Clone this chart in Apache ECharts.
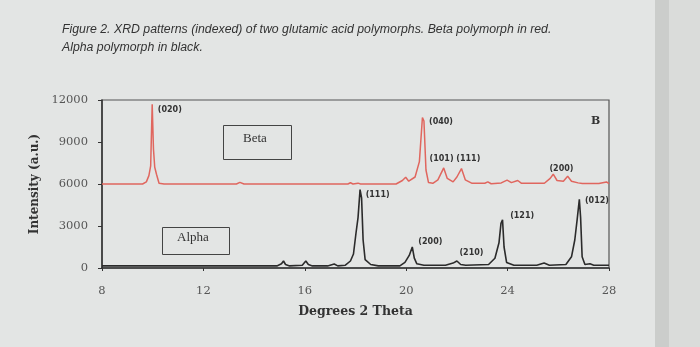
<!DOCTYPE html>
<html><head><meta charset="utf-8">
<script src="https://cdn.jsdelivr.net/npm/echarts@6/dist/echarts.min.js"></script>
<style>html,body{margin:0;padding:0;background:#e3e5e4}#c{width:700px;height:347px}</style>
</head><body><div id="c"></div>
<script>
const titleLines = ["Figure 2. XRD patterns (indexed) of two glutamic acid polymorphs. Beta polymorph in red.", "Alpha polymorph in black."];
const xTicks = [8, 12, 16, 20, 24, 28];
const yTicks = [0, 3000, 6000, 9000, 12000];
// Beta polymorph (red): [2theta, intensity]
const betaPattern = [[8.0,6000],[9.6,6000],[9.75,6150],[9.85,6600],[9.92,7300],[9.98,11700],[10.03,8500],[10.08,7200],[10.15,6700],[10.25,6050],[10.45,6000],[13.3,6000],[13.44,6120],[13.6,6000],[17.7,6000],[17.8,6090],[17.9,6000],[18.1,6060],[18.2,6000],[19.6,6000],[19.85,6250],[19.98,6480],[20.1,6200],[20.35,6500],[20.52,7600],[20.64,10750],[20.7,10500],[20.78,7000],[20.88,6100],[21.05,6050],[21.25,6300],[21.48,7150],[21.62,6400],[21.85,6150],[22.0,6500],[22.18,7100],[22.33,6300],[22.6,6050],[23.1,6050],[23.22,6150],[23.35,6020],[23.75,6080],[23.98,6280],[24.15,6100],[24.4,6250],[24.55,6050],[25.45,6050],[25.68,6400],[25.8,6700],[25.95,6250],[26.2,6200],[26.37,6550],[26.52,6200],[26.78,6080],[26.95,6030],[27.6,6030],[27.9,6150],[28.0,6030]];
// Alpha polymorph (black)
const alphaPattern = [[8.0,150],[14.9,150],[15.08,300],[15.16,500],[15.24,250],[15.4,150],[15.9,200],[16.04,500],[16.14,250],[16.3,150],[16.9,150],[17.16,280],[17.3,150],[17.6,200],[17.8,500],[17.92,1000],[18.02,2500],[18.1,3600],[18.18,5600],[18.24,5000],[18.3,2000],[18.38,600],[18.6,250],[18.9,150],[19.75,150],[19.95,400],[20.12,900],[20.24,1500],[20.32,700],[20.42,300],[20.7,200],[21.55,200],[21.85,350],[22.0,500],[22.15,250],[22.35,200],[23.25,250],[23.5,700],[23.66,1800],[23.74,3200],[23.8,3450],[23.86,1500],[23.96,400],[24.25,200],[25.15,200],[25.44,350],[25.65,200],[26.3,250],[26.52,800],[26.65,2000],[26.74,3400],[26.83,4900],[26.88,3600],[26.94,800],[27.05,250],[27.25,300],[27.4,200],[28,200]];
// Peak index labels: [text, 2theta, intensity]
const betaLabels = [["(020)",10.2,11300],["(040)",20.9,10450],["(101) (111)",20.92,7800],["(200)",25.65,7100]];
const alphaLabels = [["(111)",18.4,5250],["(200)",20.48,1850],["(210)",22.1,1050],["(121)",24.1,3700],["(012)",27.05,4800]];

const tickFont = {fontFamily:'DejaVu Serif', fontSize:11.5, color:'#555'};
function labelPoints(list){
  return list.map(l => ({coord:[l[1],l[2]], value:l[0]}));
}
const chart = echarts.init(document.getElementById('c'));
chart.setOption({
  backgroundColor:'#e3e5e4',
  animation:false,
  grid:{left:102, right:91, top:100, bottom:79, show:true, borderColor:'#555', borderWidth:1.2, backgroundColor:'transparent'},
  xAxis:{type:'value', min:8, max:28, interval:4,
    axisLine:{lineStyle:{color:'#333', width:1.5}},
    axisTick:{show:true, length:3, inside:false, lineStyle:{color:'#333'}},
    splitLine:{show:false},
    axisLabel:Object.assign({margin:17, formatter:v=>String(v)}, tickFont),
    name:'Degrees 2 Theta', nameLocation:'middle', nameGap:37,
    nameTextStyle:{fontFamily:'DejaVu Serif', fontWeight:'bold', fontSize:12.5, color:'#333'}
  },
  yAxis:{type:'value', min:0, max:12000, interval:3000,
    axisLine:{show:true, lineStyle:{color:'#333', width:1.5}},
    axisTick:{show:true, length:4, lineStyle:{color:'#333'}},
    splitLine:{show:false},
    axisLabel:Object.assign({margin:14, formatter:v=>String(v)}, tickFont),
    name:'Intensity (a.u.)', nameLocation:'middle', nameGap:60,
    nameTextStyle:{fontFamily:'DejaVu Serif', fontWeight:'bold', fontSize:12, color:'#333'}
  },
  series:[
    {name:'Beta', type:'line', data:betaPattern, showSymbol:false, smooth:false,
      lineStyle:{color:'#e0665e', width:1.5}, z:3,
      markPoint:{symbol:'circle', symbolSize:0, data:labelPoints(betaLabels),
        label:{show:true, position:'right', distance:0, formatter:p=>p.value, fontFamily:'DejaVu Sans', fontSize:8, fontWeight:'bold', color:'#333'}}},
    {name:'Alpha', type:'line', data:alphaPattern, showSymbol:false, smooth:false,
      lineStyle:{color:'#2b2b2b', width:1.6}, z:4,
      markPoint:{symbol:'circle', symbolSize:0, data:labelPoints(alphaLabels),
        label:{show:true, position:'right', distance:0, formatter:p=>p.value, fontFamily:'DejaVu Sans', fontSize:8, fontWeight:'bold', color:'#333'}}}
  ],
  graphic:[
    {type:'rect', left:655, top:0, shape:{width:14, height:347}, style:{fill:'#cbcdcb'}, z:-1},
    {type:'rect', left:669, top:0, shape:{width:31, height:347}, style:{fill:'#dadcda'}, z:-1},
    {type:'text', left:62, top:24, style:{text:titleLines[0], font:'italic 12.3px "Liberation Sans"', fill:'#333'}},
    {type:'text', left:62, top:42, style:{text:titleLines[1], font:'italic 12.3px "Liberation Sans"', fill:'#333'}},
    {type:'rect', left:221, top:123, shape:{width:68, height:34}, style:{fill:'none', stroke:'#444', lineWidth:1}},
    {type:'text', left:243, top:132, style:{text:'Beta', font:'13px "Liberation Serif"', fill:'#333'}},
    {type:'rect', left:160, top:225, shape:{width:67, height:27}, style:{fill:'none', stroke:'#444', lineWidth:1}},
    {type:'text', left:177, top:231, style:{text:'Alpha', font:'13px "Liberation Serif"', fill:'#333'}},
    {type:'text', left:591, top:116, style:{text:'B', font:'bold 11px "DejaVu Serif"', fill:'#333'}}
  ]
});
</script></body></html>
